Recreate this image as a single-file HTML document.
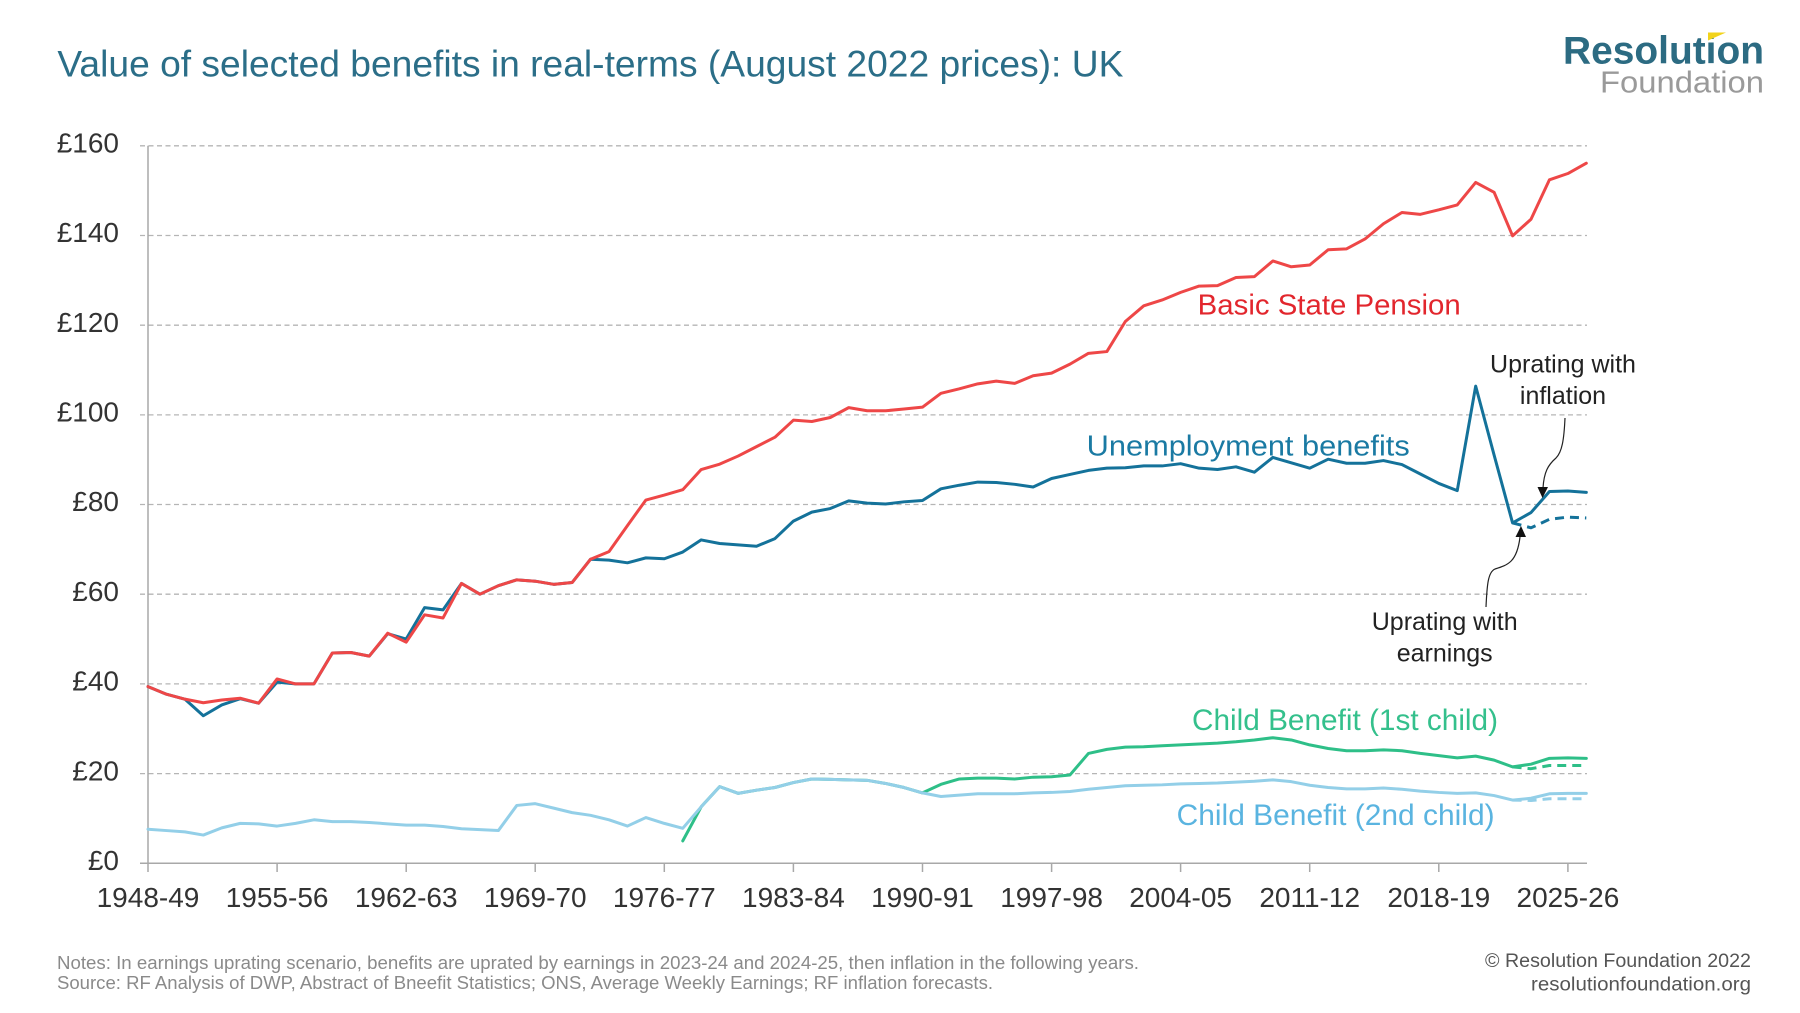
<!DOCTYPE html>
<html><head><meta charset="utf-8"><style>
html,body{margin:0;padding:0;background:#fff;}
svg{display:block;font-family:"Liberation Sans",Arial,sans-serif;}
</style></head><body>
<svg width="1800" height="1013" viewBox="0 0 1800 1013" xmlns="http://www.w3.org/2000/svg">
<rect width="1800" height="1013" fill="#fff"/>
<!-- title -->
<text x="57.4" y="76.7" font-size="37" fill="#2b6e88" textLength="1066" lengthAdjust="spacingAndGlyphs">Value of selected benefits in real-terms (August 2022 prices): UK</text>
<!-- logo -->
<text x="1563" y="63.5" font-size="39" font-weight="bold" fill="#2c6b82" textLength="201" lengthAdjust="spacingAndGlyphs">Resolution</text>
<polygon points="1708,32.5 1726,32.5 1708,40.5" fill="#f2d31b"/>
<text x="1600" y="92.7" font-size="31" fill="#9a9a9a" textLength="164" lengthAdjust="spacingAndGlyphs">Foundation</text>

<!-- gridlines -->
<g stroke="#b5b5b5" stroke-width="1.3" stroke-dasharray="5 3.5">
<line x1="140" y1="145.8" x2="1587" y2="145.8"/>
<line x1="140" y1="235.5" x2="1587" y2="235.5"/>
<line x1="140" y1="325.2" x2="1587" y2="325.2"/>
<line x1="140" y1="414.9" x2="1587" y2="414.9"/>
<line x1="140" y1="504.5" x2="1587" y2="504.5"/>
<line x1="140" y1="594.2" x2="1587" y2="594.2"/>
<line x1="140" y1="683.9" x2="1587" y2="683.9"/>
<line x1="140" y1="773.6" x2="1587" y2="773.6"/>
</g>
<!-- axes -->
<g stroke="#a8a8a8" stroke-width="1.5">
<line x1="148" y1="145.8" x2="148" y2="872"/>
<line x1="140" y1="863.3" x2="1587" y2="863.3"/>
<line x1="277.1" y1="863.3" x2="277.1" y2="872"/>
<line x1="406.2" y1="863.3" x2="406.2" y2="872"/>
<line x1="535.2" y1="863.3" x2="535.2" y2="872"/>
<line x1="664.3" y1="863.3" x2="664.3" y2="872"/>
<line x1="793.4" y1="863.3" x2="793.4" y2="872"/>
<line x1="922.5" y1="863.3" x2="922.5" y2="872"/>
<line x1="1051.6" y1="863.3" x2="1051.6" y2="872"/>
<line x1="1180.6" y1="863.3" x2="1180.6" y2="872"/>
<line x1="1309.7" y1="863.3" x2="1309.7" y2="872"/>
<line x1="1438.8" y1="863.3" x2="1438.8" y2="872"/>
<line x1="1567.9" y1="863.3" x2="1567.9" y2="872"/>
</g>
<!-- y labels -->
<g font-size="28" fill="#333" text-anchor="end">
<text x="119" y="152.5">£160</text>
<text x="119" y="242.2">£140</text>
<text x="119" y="331.9">£120</text>
<text x="119" y="421.6">£100</text>
<text x="119" y="511.2">£80</text>
<text x="119" y="600.9">£60</text>
<text x="119" y="690.6">£40</text>
<text x="119" y="780.3">£20</text>
<text x="119" y="869.8">£0</text>
</g>
<!-- x labels -->
<g font-size="28" fill="#333" text-anchor="middle">
<text x="148" y="907">1948-49</text>
<text x="277.1" y="907">1955-56</text>
<text x="406.2" y="907">1962-63</text>
<text x="535.2" y="907">1969-70</text>
<text x="664.3" y="907">1976-77</text>
<text x="793.4" y="907">1983-84</text>
<text x="922.5" y="907">1990-91</text>
<text x="1051.6" y="907">1997-98</text>
<text x="1180.6" y="907">2004-05</text>
<text x="1309.7" y="907">2011-12</text>
<text x="1438.8" y="907">2018-19</text>
<text x="1567.9" y="907">2025-26</text>
</g>

<!-- series -->
<g transform="translate(148,863.3) scale(18.44,-4.485)" fill="none" stroke-linejoin="round" stroke-linecap="round">
<polyline vector-effect="non-scaling-stroke" stroke="#2ebf88" stroke-width="3" points="29,5 30,12.6 31,17.1 32,15.6 33,16.3 34,16.9 35,18 36,18.8 37,18.7 38,18.6 39,18.5 40,17.8 41,16.9 42,15.7 43,17.6 44,18.8 45,19 46,19 47,18.8 48,19.2 49,19.3 50,19.7 51,24.5 52,25.4 53,25.9 54,26 55,26.2 56,26.4 57,26.6 58,26.8 59,27.1 60,27.5 61,28 62,27.5 63,26.4 64,25.6 65,25.1 66,25.1 67,25.3 68,25.1 69,24.5 70,24 71,23.5 72,23.9 73,23 74,21.5 75,22.1 76,23.4 77,23.5 78,23.4"/>
<polyline vector-effect="non-scaling-stroke" stroke="#93cfe8" stroke-width="3" points="0,7.6 1,7.3 2,7 3,6.3 4,7.9 5,8.9 6,8.8 7,8.3 8,8.9 9,9.7 10,9.3 11,9.3 12,9.1 13,8.8 14,8.5 15,8.5 16,8.2 17,7.7 18,7.5 19,7.3 20,12.9 21,13.3 22,12.3 23,11.3 24,10.7 25,9.7 26,8.3 27,10.2 28,8.9 29,7.8 30,12.6 31,17.1 32,15.6 33,16.3 34,16.9 35,18 36,18.8 37,18.7 38,18.6 39,18.5 40,17.8 41,16.9 42,15.7 43,14.9 44,15.2 45,15.5 46,15.5 47,15.5 48,15.7 49,15.8 50,16 51,16.5 52,16.9 53,17.3 54,17.4 55,17.5 56,17.7 57,17.8 58,17.9 59,18.1 60,18.3 61,18.6 62,18.2 63,17.4 64,16.9 65,16.6 66,16.6 67,16.8 68,16.5 69,16.1 70,15.8 71,15.6 72,15.7 73,15.1 74,14.1 75,14.5 76,15.5 77,15.6 78,15.6"/>
<polyline vector-effect="non-scaling-stroke" stroke="#14729a" stroke-width="3" points="0,39.4 1,37.7 2,36.6 3,32.9 4,35.3 5,36.7 6,35.7 7,40.4 8,40 9,40 10,46.9 11,47 12,46.2 13,51.2 14,50 15,57 16,56.5 17,62.4 18,60 19,61.9 20,63.2 21,62.9 22,62.2 23,62.6 24,67.8 25,67.6 26,67 27,68.1 28,67.9 29,69.4 30,72.1 31,71.3 32,71 33,70.7 34,72.4 35,76.3 36,78.3 37,79.1 38,80.8 39,80.3 40,80.1 41,80.6 42,80.9 43,83.5 44,84.3 45,85 46,84.9 47,84.5 48,83.9 49,85.8 50,86.7 51,87.6 52,88.1 53,88.2 54,88.6 55,88.6 56,89.1 57,88.1 58,87.8 59,88.4 60,87.2 61,90.5 62,89.3 63,88.1 64,90.1 65,89.2 66,89.2 67,89.8 68,88.9 69,86.8 70,84.7 71,83.1 72,106.4 73,91 74,75.9 75,78.2 76,82.9 77,83 78,82.7"/>
<polyline vector-effect="non-scaling-stroke" stroke="#ee4747" stroke-width="3" points="0,39.4 1,37.7 2,36.6 3,35.8 4,36.4 5,36.8 6,35.7 7,41.1 8,40 9,40 10,46.9 11,47 12,46.2 13,51.3 14,49.3 15,55.4 16,54.7 17,62.4 18,60 19,61.9 20,63.2 21,62.9 22,62.2 23,62.6 24,67.8 25,69.5 26,75.3 27,81 28,82.1 29,83.3 30,87.8 31,89 32,90.8 33,92.9 34,95 35,98.8 36,98.5 37,99.4 38,101.6 39,100.9 40,100.9 41,101.3 42,101.7 43,104.8 44,105.8 45,106.9 46,107.5 47,107 48,108.7 49,109.3 50,111.3 51,113.7 52,114.1 53,120.8 54,124.3 55,125.6 56,127.3 57,128.7 58,128.8 59,130.6 60,130.8 61,134.3 62,133 63,133.4 64,136.8 65,137 66,139.2 67,142.6 68,145.1 69,144.7 70,145.7 71,146.8 72,151.8 73,149.6 74,139.9 75,143.6 76,152.4 77,153.8 78,156.1"/>
</g>
<!-- dashed scenarios -->
<g fill="none" stroke-width="3" stroke-dasharray="9 6" stroke-linejoin="round">
<polyline stroke="#14729a" points="1512.6,522.9 1531,527.8 1549.4,519.3 1567.9,517.1 1586.3,518"/>
<polyline stroke="#2ebf88" points="1512.6,766.9 1531,768.7 1549.4,765.5 1567.9,765.5 1586.3,765.5"/>
<polyline stroke="#93cfe8" points="1512.6,800.1 1531,800.5 1549.4,798.7 1567.9,798.7 1586.3,798.7"/>
</g>

<!-- series labels -->
<text x="1197.7" y="314.3" font-size="29" fill="#e2262d" textLength="263" lengthAdjust="spacingAndGlyphs">Basic State Pension</text>
<text x="1086.7" y="455.7" font-size="29" fill="#1a7aa3" textLength="323" lengthAdjust="spacingAndGlyphs">Unemployment benefits</text>
<text x="1192" y="730" font-size="30" fill="#34c08c" textLength="306" lengthAdjust="spacingAndGlyphs">Child Benefit (1st child)</text>
<text x="1176.6" y="825" font-size="30" fill="#5ab4e0" textLength="318" lengthAdjust="spacingAndGlyphs">Child Benefit (2nd child)</text>

<!-- annotations -->
<g font-size="25" fill="#222" text-anchor="middle">
<text x="1563" y="372.7">Uprating with</text>
<text x="1563" y="404">inflation</text>
<text x="1444.7" y="630">Uprating with</text>
<text x="1444.7" y="661.7">earnings</text>
</g>
<g fill="none" stroke="#222" stroke-width="1.2">
<path d="M1565,418 C1564,440 1562,452 1556,458 C1548,465 1544,472 1543,488"/>
<path d="M1486,607 C1487,585 1488,572 1495,569 C1508,565 1517,562 1520,537"/>
</g>
<polygon points="1537.5,487 1548,487 1542.5,498" fill="#111"/>
<polygon points="1515.5,537 1526,537 1521,526" fill="#111"/>

<!-- footer -->
<text x="57" y="969" font-size="18" fill="#8a8a8a" textLength="1082" lengthAdjust="spacingAndGlyphs">Notes: In earnings uprating scenario, benefits are uprated by earnings in 2023-24 and 2024-25, then inflation in the following years.</text>
<text x="57" y="989" font-size="18" fill="#8a8a8a" textLength="936" lengthAdjust="spacingAndGlyphs">Source: RF Analysis of DWP, Abstract of Bneefit Statistics; ONS, Average Weekly Earnings; RF inflation forecasts.</text>
<text x="1485" y="967" font-size="19" fill="#555" textLength="266" lengthAdjust="spacingAndGlyphs">© Resolution Foundation 2022</text>
<text x="1531" y="990.5" font-size="19" fill="#555" textLength="220" lengthAdjust="spacingAndGlyphs">resolutionfoundation.org</text>
</svg>
</body></html>
